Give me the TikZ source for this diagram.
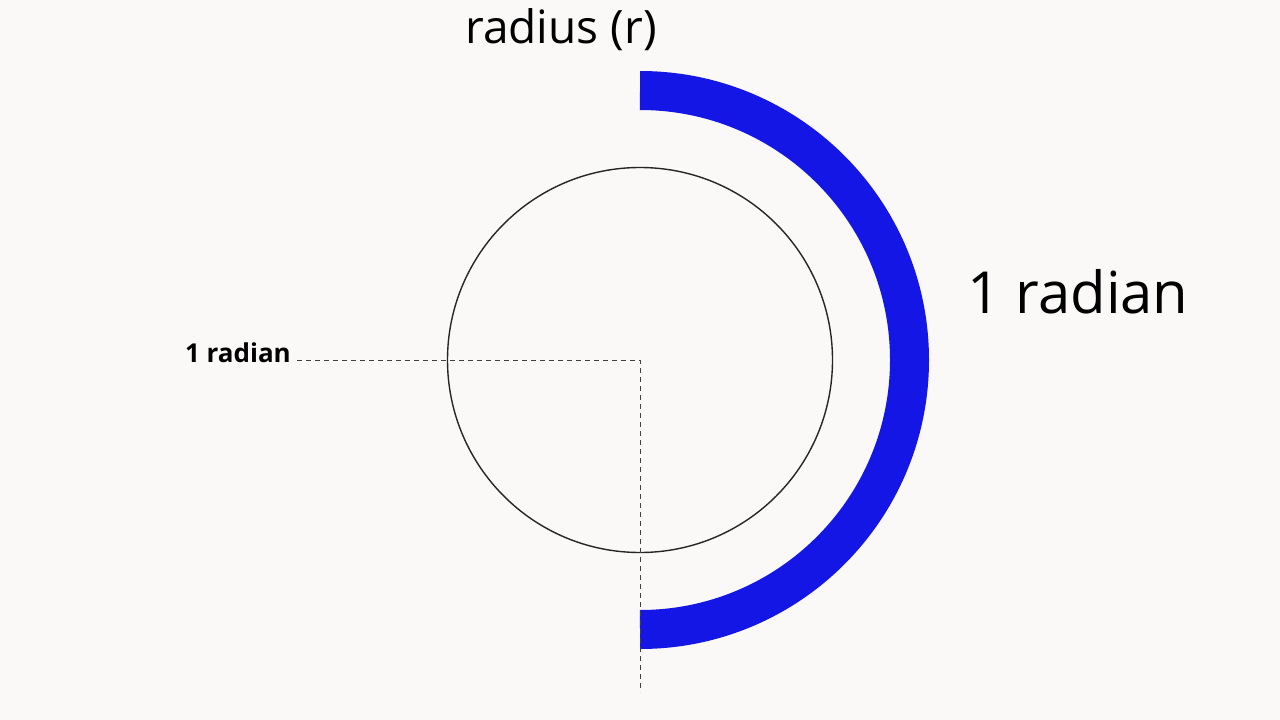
\documentclass[tikz,border=0pt]{standalone}
\usepackage{fontspec}
\setmainfont{Open Sans}
\usetikzlibrary{calc,positioning}
\definecolor{paper}{RGB}{250,249,247}
\definecolor{arcblue}{RGB}{20,22,230}

\begin{document}
\begin{tikzpicture}[x=1pt,y=-1pt,
        guide/.style={dash pattern=on 5pt off 4pt,line width=1pt,black!75},
        bigarc/.style={line width=39pt,arcblue}]
            \fill[paper] (0,0) rectangle (1280,720);
            \useasboundingbox (0,0) rectangle (1280,720);
            \coordinate (O) at (640,360);
            \coordinate (foot) at (640,692);
            % unit circle and the blue arc
            \draw[line width=1.4pt,black!85] (O) circle (192.5);
            \draw[bigarc] (640,90.5) arc (-90:90:269.5);
            % labels
            \node (rlabel) at (561,30) {\fontsize{46}{50}\selectfont radius (r)};
            \node (arclabel) at (1078,292) {\fontsize{58}{62}\selectfont 1 radian};
            \node[anchor=east,inner sep=6pt] (leftlabel) at (297,353) {\fontsize{26}{30}\selectfont\bfseries 1 radian};
            % dashed guides
            \draw[guide] (leftlabel.east |- O) -- (O) -- (foot);
        \end{tikzpicture}
\end{document}
